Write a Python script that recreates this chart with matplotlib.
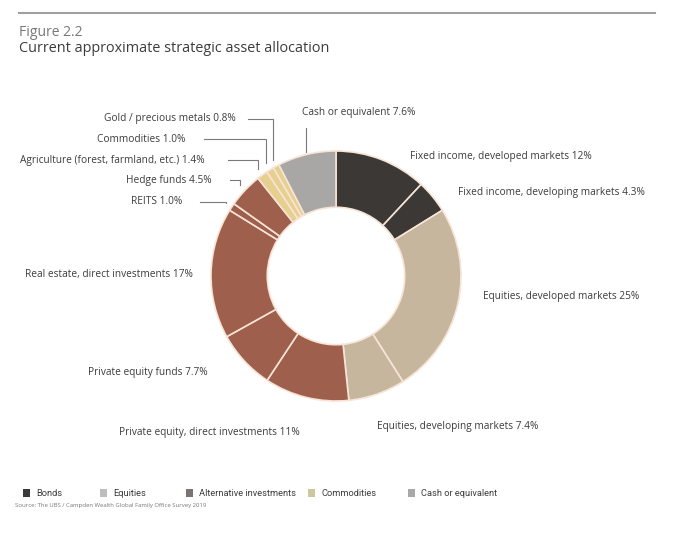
import numpy as np
import matplotlib
matplotlib.use('Agg')
import matplotlib.pyplot as plt

# Data
names = [
    'Fixed income, developed markets',
    'Fixed income, developing markets',
    'Equities, developed markets',
    'Equities, developing markets',
    'Private equity, direct investments',
    'Private equity funds',
    'Real estate, direct investments',
    'REITS',
    'Hedge funds',
    'Agriculture (forest, farmland, etc.)',
    'Commodities',
    'Gold / precious metals',
    'Cash or equivalent',
]
values = [12, 4.3, 25, 7.4, 11, 7.7, 17, 1.0, 4.5, 1.4, 1.0, 0.8, 7.6]
groups = ['Bonds', 'Bonds', 'Equities', 'Equities',
          'Alternative investments', 'Alternative investments', 'Alternative investments',
          'Alternative investments', 'Alternative investments',
          'Commodities', 'Commodities', 'Commodities',
          'Cash or equivalent']
legend_names = ['Bonds', 'Equities', 'Alternative investments', 'Commodities', 'Cash or equivalent']

# Styles
slice_colors = {
    'Bonds': '#3b3835',
    'Equities': '#c6b69d',
    'Alternative investments': '#9f5f4d',
    'Commodities': '#e6cf8f',
    'Cash or equivalent': '#a9a7a5',
}
legend_colors = {
    'Bonds': '#3a3a3a',
    'Equities': '#bdbdbd',
    'Alternative investments': '#7d7272',
    'Commodities': '#cdc79e',
    'Cash or equivalent': '#a8a8a8',
}

plt.rcParams['font.family'] = ['Open Sans', 'DejaVu Sans']
NARROW = ['Roboto', 'DejaVu Sans']
TXT = '#3c3c3c'
LINE = '#7a7a7a'

W, H = 676, 537
fig = plt.figure(figsize=(W / 100, H / 100), dpi=100)
ax = fig.add_axes([0, 0, 1, 1])

cx, cy, R = 336, 276, 125
# y axis is inverted below, so startangle=-90 / counterclock=True draws clockwise from 12 o'clock
wedges, _ = ax.pie(values, colors=[slice_colors[g] for g in groups], radius=R, center=(cx, cy),
                   startangle=-90, counterclock=True,
                   wedgeprops=dict(width=R * 0.45, edgecolor='#f7e4d6', linewidth=1.2))

ax.set_xlim(0, W)
ax.set_ylim(H, 0)
ax.set_aspect('equal')
ax.axis('off')


def anchor(i, scale=1.03):
    w = wedges[i]
    a = np.deg2rad((w.theta1 + w.theta2) / 2)
    return cx + R * scale * np.cos(a), cy + R * scale * np.sin(a)


def label(i):
    v = values[i]
    s = f'{v:.0f}' if v >= 10 else f'{v:.1f}'
    return f'{names[i]} {s}%'


fs = 7.3
# right / bottom labels without leaders: (index, x, y)
plain = [
    (0, 410, 156),
    (1, 458, 192),
    (2, 483, 297),
    (3, 377, 427),
    (4, 119, 432),
    (5, 88, 373),
    (6, 25, 275),
]
for i, x, y in plain:
    ax.text(x, y, label(i), fontsize=fs, color=TXT, ha='left', va='center')

# small slices with elbow leaders: (index, text right x, y, line start x)
elbow = [
    (7, 182, 202, 200),
    (8, 212, 180, 230),
    (9, 205, 160, 228),
    (10, 185, 139, 204),
    (11, 236, 119, 248),
]
for i, x, y, x0 in elbow:
    ax.text(x, y, label(i), fontsize=fs, color=TXT, ha='right', va='center')
    ax_, ay_ = anchor(i, 1.06)
    ax.plot([x0, ax_, ax_], [y, y, ay_], color=LINE, lw=0.8, solid_joinstyle='miter')

# cash label on top
i = 12
ax_, ay_ = anchor(i, 1.02)
ax.plot([ax_, ax_], [ay_, 128], color=LINE, lw=0.8)
ax.text(302, 112, label(i), fontsize=fs, color=TXT, ha='left', va='center')

# header
ax.plot([19, 655], [13, 13], color='#a0a0a0', lw=1.5)
ax.text(19, 32, 'Figure 2.2', fontsize=10, color='#777777', ha='left', va='center')
ax.text(19, 49, 'Current approximate strategic asset allocation', fontsize=10.4, color=TXT,
        ha='left', va='center')

# legend
leg_x = [23, 100, 186, 308, 408]
for name, x in zip(legend_names, leg_x):
    ax.add_patch(plt.Rectangle((x, 489), 6.5, 7.5, color=legend_colors[name], lw=0))
    ax.text(x + 13, 493, name, fontsize=6.7, color=TXT, ha='left', va='center', family=NARROW)

ax.text(15, 505, 'Source: The UBS / Campden Wealth Global Family Office Survey 2019',
        fontsize=4.3, color='#777777', ha='left', va='center')

fig.savefig('out.png', dpi=100, facecolor='white')
